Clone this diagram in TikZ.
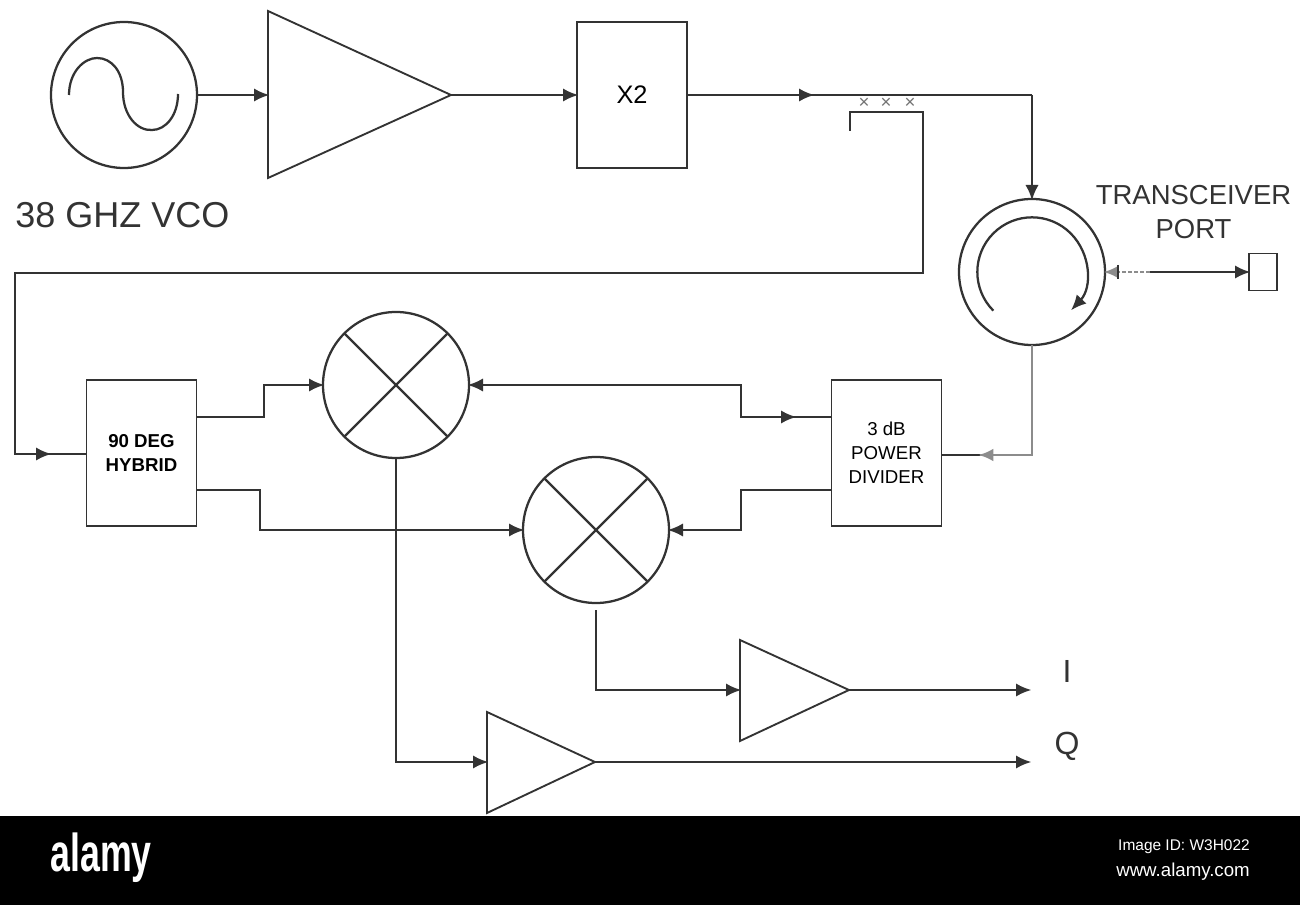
\documentclass[tikz,border=0pt]{standalone}
\usepackage{fontspec}
\setmainfont{Liberation Sans}
\usetikzlibrary{arrows.meta}
\tikzset{
  wire/.style={line width=1.7pt,draw=black!80,line join=miter},
  arrowed/.style={wire,-{Latex[length=11.5pt,width=10pt]},shorten >=-1pt},
  grayline/.style={line width=1.6pt,draw=black!45},
  grayarrow/.style={grayline,-{Latex[length=11pt,width=9.5pt]},shorten >=-1pt},
  blockbox/.style={draw=black!80,line width=1.4pt,fill=white,minimum width=82.5pt,minimum height=109.5pt,inner sep=0pt,outer sep=0pt,align=center},
  roundel/.style={circle,draw=black!80,line width=1.7pt,fill=white,minimum size=109.5pt,inner sep=0pt,outer sep=0pt},
  tri/.style={draw=black!80,line width=1.4pt,fill=white},
  lbl/.style={text=black!80,inner sep=0pt,outer sep=0pt,align=center},
}
\begin{document}
\begin{tikzpicture}[x=0.75pt,y=-0.75pt]
\useasboundingbox (0,0) rectangle (1300,905);
\fill[white] (0,0) rectangle (1300,816);
\fill[black] (0,816) rectangle (1300,905);

% named points
\coordinate (ampA) at (268,11); \coordinate (ampB) at (268,178); \coordinate (ampTip) at (451,95); \coordinate (ampIn) at (268,95);
\coordinate (ampIA) at (740,640); \coordinate (ampIB) at (740,741); \coordinate (ampITip) at (849,690); \coordinate (ampIIn) at (740,690);
\coordinate (ampQA) at (487,712); \coordinate (ampQB) at (487,813); \coordinate (ampQTip) at (595,762); \coordinate (ampQIn) at (487,762);
\coordinate (midA) at (813,95); \coordinate (cornerA) at (1032,95);
\coordinate (cpEnd) at (850,131); \coordinate (cpL) at (850,112); \coordinate (cpR) at (923,112); \coordinate (cpD) at (923,273); \coordinate (runL) at (15,273); \coordinate (runD) at (15,454); \coordinate (midB) at (50,454);
\coordinate (hyOut1) at (196,417); \coordinate (hyOut2) at (196,490);
\coordinate (pdIn1) at (832,417); \coordinate (pdIn2) at (832,490); \coordinate (pdE) at (941,455);
\coordinate (midC) at (795,417); \coordinate (midG) at (980,455);
\coordinate (portMid) at (1150,272); \coordinate (portBlack) at (1118,272);
\coordinate (m2Out) at (596,610); \coordinate (outI) at (1030,690); \coordinate (outQ) at (1030,762);

% blocks
\node[roundel] (vco) at (124,95) {};
\node[blockbox] (x2) at (632,95) {\fontsize{19}{20}\selectfont X2};
\node[roundel] (circ) at (1032,272) {};
\node[blockbox,font=\fontsize{14}{18}\selectfont\bfseries] (hyb) at (141.5,453) {90 DEG\\HYBRID};
\node[blockbox,font=\fontsize{14}{18}\selectfont] (pd) at (886.5,453) {3 dB\\POWER\\DIVIDER};
\node[roundel] (m1) at (396,385) {};
\node[roundel] (m2) at (596,530) {};
\node[draw=black!80,line width=1.2pt,minimum width=21pt,minimum height=27.5pt,inner sep=0pt,outer sep=0pt] (port) at (1263,272) {};

\draw[tri] (ampA) -- (ampTip) -- (ampB) -- cycle;
\draw[tri] (ampIA) -- (ampITip) -- (ampIB) -- cycle;
\draw[tri] (ampQA) -- (ampQTip) -- (ampQB) -- cycle;

% block details
\draw[wire] (69,95) .. controls (69,72) and (84,58) .. (97,58) .. controls (112,58) and (123,72) .. (123,92) .. controls (123,115) and (137,131) .. (152,130) .. controls (166,130) and (178,115) .. (178,94);
\draw[wire] (m1.45) -- (m1.225);
\draw[wire] (m1.135) -- (m1.315);
\draw[wire] (m2.45) -- (m2.225);
\draw[wire] (m2.135) -- (m2.315);
\draw[arrowed] (circ.center) ++(225:41pt) arc[start angle=225,end angle=-43,radius=41pt];

% connectors
\draw[arrowed] (vco.east) -- (ampIn);
\draw[arrowed] (ampTip) -- (x2.west);
\draw[wire] (x2.east) -- (cornerA);
\draw[arrowed] (x2.east) -- (midA);
\draw[arrowed] (cornerA) -- (circ.north);
\draw[wire] (cpEnd) -- (cpL) -- (cpR) -- (cpD) -- (runL) -- (runD) -- (hyb.west |- midB);
\draw[arrowed] (runD) -- (midB);
\draw[arrowed] (hyOut1) -| (264,385) -- (m1.west);
\draw[arrowed] (hyOut2) -| (260,530) -- (m2.west);
\draw[wire] (pdIn1) -- (741,417) -- (741,385);
\draw[arrowed] (741,417) -- (741,385) -- (m1.east);
\draw[arrowed] (741,417) -- (midC);
\draw[arrowed] (pdIn2) -| (741,530) -- (m2.east);
\draw[arrowed] (m1.south) |- (ampQIn);
\draw[arrowed] (m2Out) |- (ampIIn);
\draw[arrowed] (ampITip) -- (outI);
\draw[arrowed] (ampQTip) -- (outQ);
% circulator output
\draw[wire] (midG) -- (pdE);
\draw[grayline] (circ.south) -- (1032,455) -- (midG);
\draw[grayarrow] (1000,455) -- (midG);
% transceiver port
\draw[arrowed] (portMid) -- (port.west);
\draw[grayline,dash pattern=on 3pt off 1.5pt] (portMid) -- (portBlack);
\draw[grayarrow] (portBlack) -- (circ.east);
\draw[line width=1.7pt,black!80] (1118,265) -- (1118,279);

% labels
\node[lbl,font=\fontsize{27}{30}\selectfont] (vcoL) at (122.5,215) {38 GHZ VCO};
\node[lbl,font=\fontsize{20.6}{25.5}\selectfont] (portL) at (1193.5,212) {TRANSCEIVER\\PORT};
\node[lbl,font=\fontsize{14}{14}\selectfont,text=black!55] (xxx1) at (864,103) {×};
\node[lbl,font=\fontsize{14}{14}\selectfont,text=black!55] (xxx2) at (886,103) {×};
\node[lbl,font=\fontsize{14}{14}\selectfont,text=black!55] (xxx3) at (910,103) {×};
\node[lbl,font=\fontsize{24}{26}\selectfont] (I) at (1067,671) {I};
\node[lbl,font=\fontsize{24}{26}\selectfont] (Q) at (1067,746) {Q};

% footer
\node[text=white,inner sep=0pt,xscale=.67,font=\fontsize{40}{44}\selectfont\bfseries] (alamy) at (101,858) {alamy};
\node[text=white,inner sep=0pt,anchor=east,font=\fontsize{11.6}{13}\selectfont] (imgid) at (1250,847) {Image ID: W3H022};
\node[text=white,inner sep=0pt,anchor=east,font=\fontsize{14}{16}\selectfont] (www) at (1250,872) {www.alamy.com};
\end{tikzpicture}
\end{document}
